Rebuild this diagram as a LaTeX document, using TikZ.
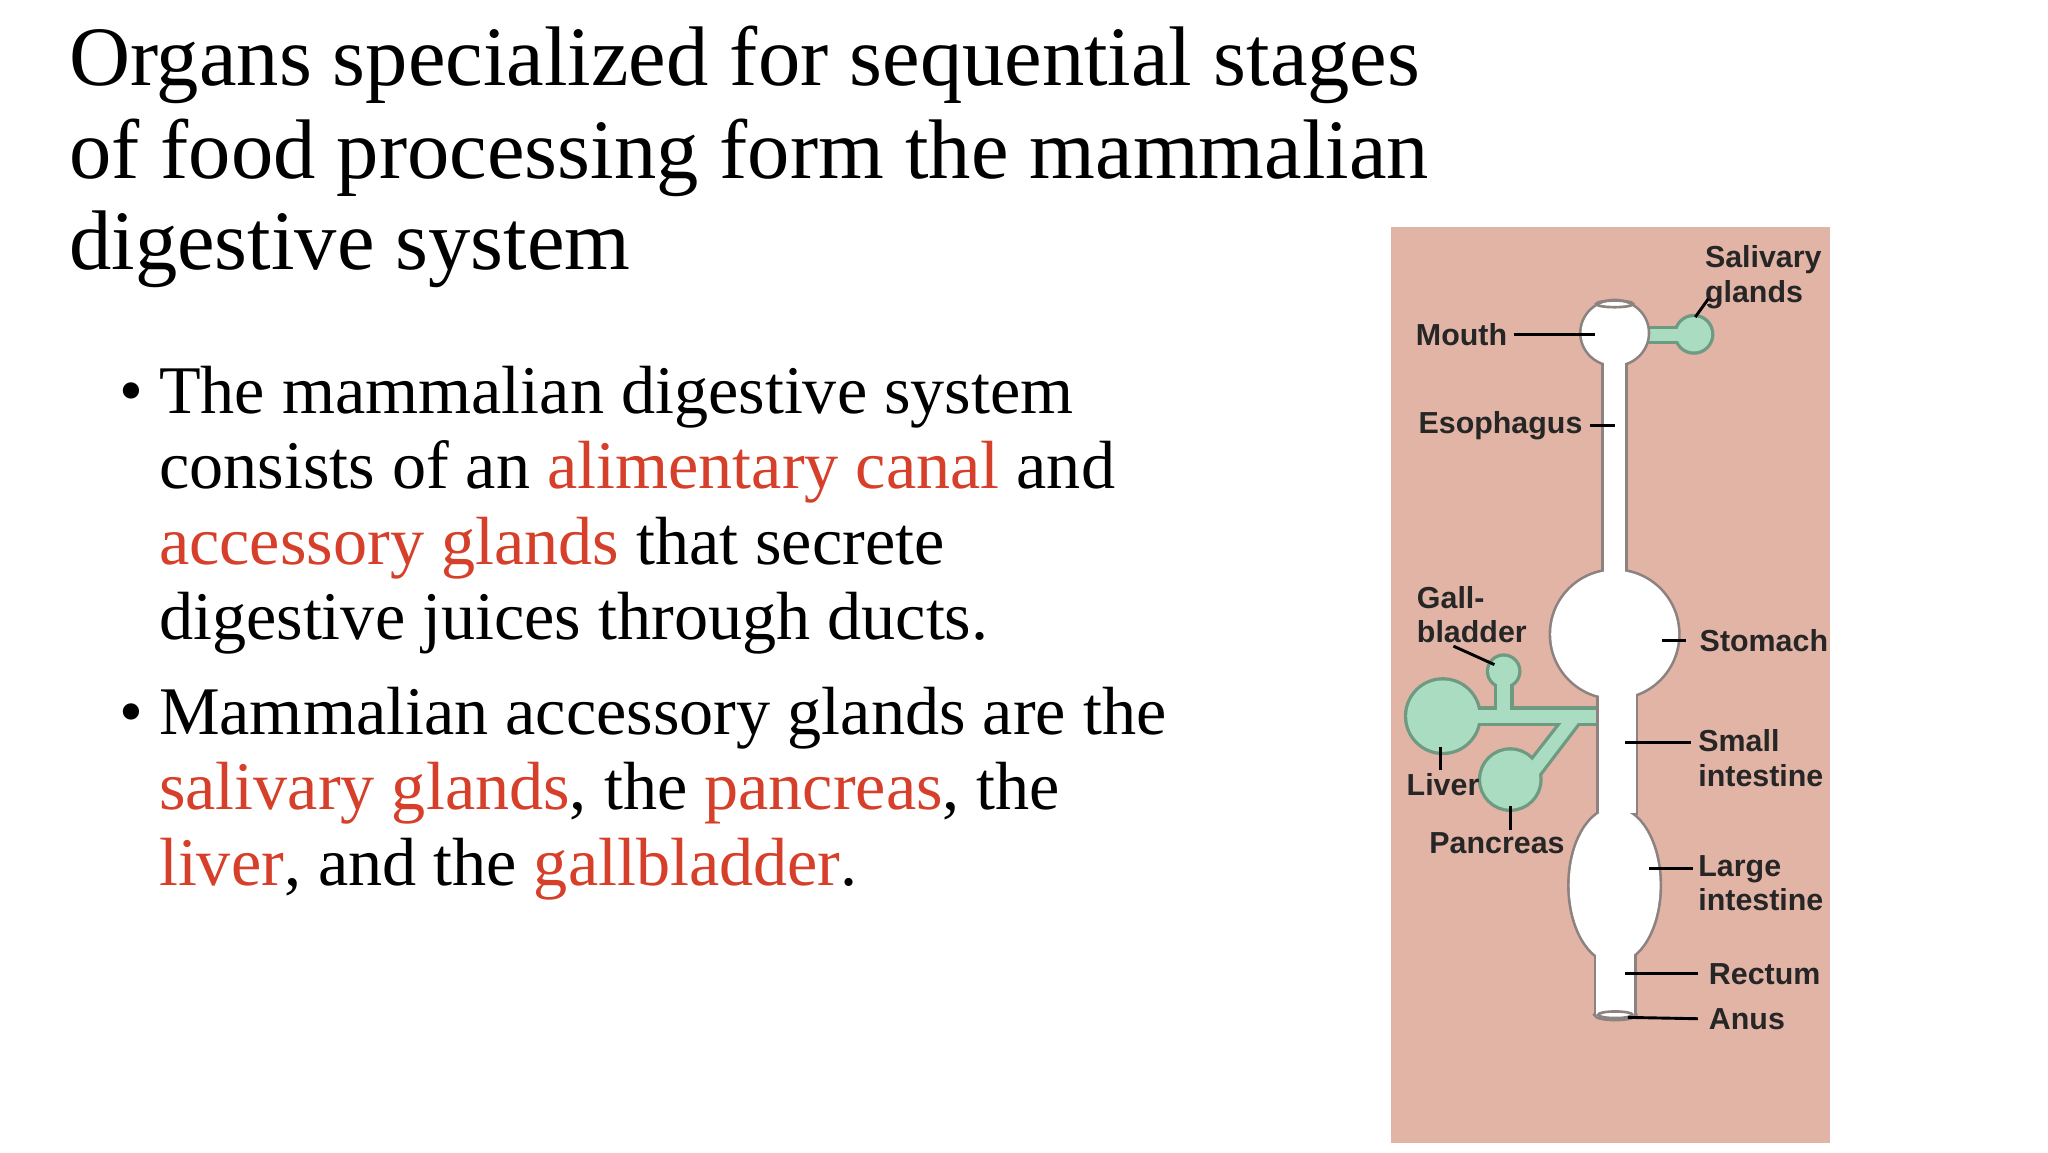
\documentclass[tikz,border=0pt]{standalone}
\usepackage{fontspec}
\setmainfont{Liberation Serif}
\newfontfamily\lab{Liberation Sans}
\definecolor{hl}{HTML}{D6402A}
\definecolor{panel}{HTML}{E2B4A5}
\definecolor{gland}{HTML}{A9DCC0}
\definecolor{glandrim}{HTML}{6E9A82}
\definecolor{rim}{HTML}{8C8280}
\begin{document}
\begin{tikzpicture}[x=0.5pt,y=-0.5pt,
  ttl/.style={anchor=base west,inner sep=0,font=\fontsize{32}{36}\selectfont},
  txt/.style={anchor=base west,inner sep=0,font=\fontsize{25.8}{30}\selectfont},
  lbl/.style={inner sep=0,font=\lab\bfseries\fontsize{11.5}{13}\selectfont,text=black!85},
  ptr/.style={line width=1.1pt,black},
  gout/.style={fill=glandrim,draw=glandrim,line width=2.5pt},
  gin/.style={fill=gland},
  cout/.style={fill=rim,draw=rim,line width=2pt},
  cin/.style={fill=white}]
\useasboundingbox (0,0) rectangle (1550,872);
\fill[white] (0,0) rectangle (1550,872);
% title
\node[ttl] (t1) at (52,65) {Organs specialized for sequential stages};
\node[ttl] (t2) at (52,135) {of food processing form the mammalian};
\node[ttl] (t3) at (52,204) {digestive system};
% bullets
\node[txt] (b1) at (90,313) {•};
\node[txt] (l1) at (120,313) {The mammalian digestive system};
\node[txt] (l2) at (120,370) {consists of an \textcolor{hl}{alimentary canal} and};
\node[txt] (l3) at (120,427) {\textcolor{hl}{accessory glands} that secrete};
\node[txt] (l4) at (120,484) {digestive juices through ducts.};
\node[txt] (b2) at (90,556) {•};
\node[txt] (m1) at (120,556) {Mammalian accessory glands are the};
\node[txt] (m2) at (120,613) {\textcolor{hl}{salivary glands}, the \textcolor{hl}{pancreas}, the};
\node[txt] (m3) at (120,670) {\textcolor{hl}{liver}, and the \textcolor{hl}{gallbladder}.};
% panel
\fill[panel] (1053,172) rectangle (1385,865);
\newcommand\glandshapes[1]{
  \path[#1] (1282,253) circle[radius=13];
  \path[#1] (1240,249) rectangle (1275,258);
  \path[#1] (1092,542) circle[radius=27];
  \path[#1] (1100,537) rectangle (1212,547);
  \path[#1] (1133,508) rectangle (1143,540);
  \path[#1] (1138,508) circle[radius=11];
  \path[#1] (1143,590) circle[radius=22];
  \path[#1] (1150,588) -- (1186,542) -- (1198,542) -- (1160,592) -- cycle;}
\glandshapes{gout}
\glandshapes{gin}
\newcommand\canalshapes[1]{
  \path[#1] (1222,252) ellipse[x radius=25,y radius=24];
  \path[#1] (1214,268) rectangle (1230,440);
  \path[#1] (1222,480) circle[radius=48];
  \path[#1] (1210,515) rectangle (1238,615);
  \path[#1] (1222,670) ellipse[x radius=34,y radius=58];
  \path[#1] (1208,715) rectangle (1237,768);
  \path[#1] (1222.5,768) ellipse[x radius=14.5,y radius=3];}
\canalshapes{cout}
\canalshapes{cin}
\draw[rim,line width=1pt] (1222,230) ellipse[x radius=14,y radius=2.5];
\draw[rim,line width=1pt] (1222.5,768) ellipse[x radius=13,y radius=2.5];
% labels
\node[lbl,anchor=south west,align=left] (sal) at (1290,234) {Salivary\\glands};
\node[lbl,anchor=east] (mou) at (1141,253) {Mouth};
\node[lbl,anchor=east] (eso) at (1198,322) {Esophagus};
\node[lbl,anchor=south west,align=left] (gal) at (1072,487) {Gall-\\bladder};
\node[lbl,anchor=west] (sto) at (1286,485) {Stomach};
\node[lbl,anchor=north west,align=left] (sma) at (1285,552) {Small\\intestine};
\node[lbl,anchor=east] (liv) at (1120,594) {Liver};
\node[lbl,anchor=north] (pan) at (1133,630) {Pancreas};
\node[lbl,anchor=north west,align=left] (lar) at (1285,647) {Large\\intestine};
\node[lbl,anchor=west] (rec) at (1293,737) {Rectum};
\node[lbl,anchor=west] (anu) at (1293,771) {Anus};
\coordinate (pSal) at (1283,240);
\coordinate (pMou) at (1207,253);
\coordinate (pEso) at (1222,322);
\coordinate (pGal) at (1131,503);
\coordinate (pSto) at (1258,485);
\coordinate (pSma) at (1230,562);
\coordinate (pLiv) at (1090,565);
\coordinate (pPan) at (1143,610);
\coordinate (pLar) at (1248,657);
\coordinate (pRec) at (1230,737);
\coordinate (pAnu) at (1232,770);
\draw[ptr] (pSal) -- (1293,226);
\draw[ptr] (mou.east) ++(5,0) -- (pMou);
\draw[ptr] (eso.east) ++(5,0) -- (pEso);
\draw[ptr] (1100,489) -- (pGal);
\draw[ptr] (pSto) -- ([xshift=-5]sto.west);
\draw[ptr] (pSma) -- (1280,562);
\draw[ptr] (pLiv) -- (1090,583);
\draw[ptr] (pPan) -- (1143,628);
\draw[ptr] (pLar) -- (1281,657);
\draw[ptr] (pRec) -- ([xshift=-4]rec.west);
\draw[ptr] (pAnu) -- ([xshift=-4]anu.west);
\end{tikzpicture}
\end{document}
